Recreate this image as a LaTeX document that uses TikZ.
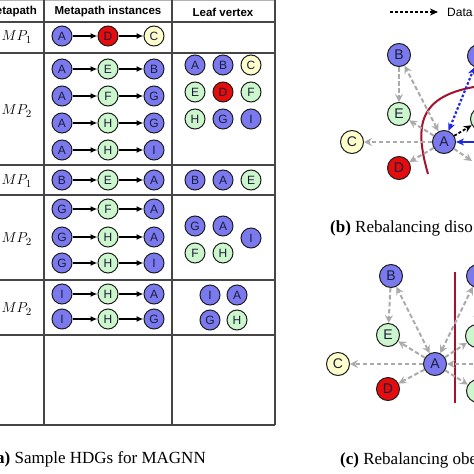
\documentclass[tikz,border=0pt]{standalone}
\usepackage{fontspec}
\setmainfont{Liberation Serif}
\setsansfont{Liberation Sans}
\usetikzlibrary{arrows.meta}
\definecolor{nblue}{RGB}{122,122,238}
\definecolor{ngreen}{RGB}{204,246,204}
\definecolor{nred}{RGB}{228,12,12}
\definecolor{nyellow}{RGB}{255,255,204}
\definecolor{nline}{RGB}{30,30,30}
\definecolor{ntext}{RGB}{28,28,60}
\definecolor{ngray}{RGB}{170,170,170}
\definecolor{tgray}{RGB}{70,70,70}
\definecolor{bblue}{RGB}{30,40,225}
\definecolor{dred}{RGB}{165,18,45}
\newcommand{\instrow}[8]{%
  \node[#3] (#1a) at (62,#2) {#4};
  \node[#5] (#1b) at (108,#2) {#6};
  \node[#7] (#1c) at (154,#2) {#8};
  \draw[tarr] (#1a) -- (#1b);
  \draw[tarr] (#1b) -- (#1c);}
\begin{document}
\begin{tikzpicture}[x=1pt,y=-1pt,
  vtx/.style={circle,draw=nline,line width=1pt,minimum size=20pt,inner sep=0pt,
    font=\sffamily\fontsize{12}{12}\selectfont,text=ntext},
  bigv/.style={minimum size=23pt,font=\sffamily\fontsize{14}{14}\selectfont},
  vb/.style={vtx,fill=nblue}, vg/.style={vtx,fill=ngreen},
  vr/.style={vtx,fill=nred}, vy/.style={vtx,fill=nyellow},
  tarr/.style={-{Latex[length=7pt,width=6pt]},line width=1.6pt,black},
  garr/.style={->,>={Stealth[length=8pt,width=8pt,inset=3pt]},line width=2pt,draw=ngray,
    dash pattern=on 4.5pt off 2.5pt},
  gbi/.style={garr,<->},
  barr/.style={<->,>={Stealth[length=8pt,width=7pt,inset=2.5pt]},line width=2.2pt,draw=bblue,
    dash pattern=on 2.5pt off 2pt},
  bsarr/.style={-{Stealth[length=8pt,width=7pt,inset=2.5pt]},line width=1.8pt,draw=bblue},
  darr/.style={-{Stealth[length=8pt,width=7pt,inset=2.5pt]},line width=1.8pt,draw=black,
    dash pattern=on 3pt off 2pt},
  tline/.style={line width=1.5pt,draw=tgray},
  hdr/.style={font=\sffamily\bfseries\fontsize{11.5}{12}\selectfont,inner sep=0pt},
  mpl/.style={font=\fontsize{15}{15}\selectfont,inner sep=0pt,anchor=east},
  captxt/.style={font=\fontsize{17}{17}\selectfont,inner sep=0pt},
  rcurve/.style={line width=2pt,draw=dred}]
\useasboundingbox (0,0) rectangle (474,474);
\clip (0,0) rectangle (474,474);
\fill[white] (0,0) rectangle (474,474);

% ---------- table (a) ----------
\draw[line width=2pt,draw=gray!60] (0,0) -- (275,0);
\foreach \yy in {22,53,165,195,280,335,425} \draw[tline] (0,\yy) -- (275,\yy);
\foreach \xx in {44,172,275} \draw[tline] (\xx,0) -- (\xx,425);

\node[hdr,anchor=east] (h1) at (37,12) {Metapath};
\node[hdr] (h2) at (108,12) {Metapath instances};
\node[hdr] (h3) at (223,12) {Leaf vertex};

\node[mpl] (m1) at (32,37) {$MP_1$};
\node[mpl] (m2) at (32,111) {$MP_2$};
\node[mpl] (m3) at (32,181) {$MP_1$};
\node[mpl] (m4) at (32,239) {$MP_2$};
\node[mpl] (m5) at (32,309) {$MP_2$};

\instrow{r1}{36}{vb}{A}{vr}{D}{vy}{C}
\instrow{r2}{69}{vb}{A}{vg}{E}{vb}{B}
\instrow{r3}{96}{vb}{A}{vg}{F}{vb}{G}
\instrow{r4}{123}{vb}{A}{vg}{H}{vb}{G}
\instrow{r5}{150}{vb}{A}{vg}{H}{vb}{I}
\instrow{r6}{180}{vb}{B}{vg}{E}{vb}{A}
\instrow{r7}{209}{vb}{G}{vg}{F}{vb}{A}
\instrow{r8}{237}{vb}{G}{vg}{H}{vb}{A}
\instrow{r9}{263}{vb}{G}{vg}{H}{vb}{I}
\instrow{r10}{294}{vb}{I}{vg}{H}{vb}{A}
\instrow{r11}{319}{vb}{I}{vg}{H}{vb}{G}

% leaf vertices
\node[vb] (l1) at (195,65) {A};
\node[vb] (l2) at (223,65) {B};
\node[vy] (l3) at (251,65) {C};
\node[vg] (l4) at (195,92) {E};
\node[vr] (l5) at (223,92) {D};
\node[vg] (l6) at (251,92) {F};
\node[vg] (l7) at (195,119) {H};
\node[vb] (l8) at (223,119) {G};
\node[vb] (l9) at (251,119) {I};
\node[vb] (l10) at (195,180) {B};
\node[vb] (l11) at (223,180) {A};
\node[vg] (l12) at (251,180) {E};
\node[vb] (l13) at (195,226) {G};
\node[vb] (l14) at (223,226) {A};
\node[vg] (l15) at (195,253) {F};
\node[vg] (l16) at (223,253) {H};
\node[vb] (l17) at (251,238) {I};
\node[vb] (l18) at (210,295) {I};
\node[vb] (l19) at (237,295) {A};
\node[vb] (l20) at (210,320) {G};
\node[vg] (l21) at (237,320) {H};

\node[captxt,anchor=base east] (capa) at (206,463) {\textbf{(a)} Sample HDGs for MAGNN};

% ---------- legend ----------
\coordinate (lg1) at (390,12);
\coordinate (lg2) at (438,12);
\draw[darr,line width=1.5pt] (lg1) -- (lg2);
\node[anchor=west,inner sep=0pt,font=\sffamily\fontsize{12}{12}\selectfont] (lgt) at (447,12) {Data};

% ---------- panel (b) ----------
\draw[rcurve] (428,174) .. controls (414,125) and (418,95) .. (480,86);
\node[vb,bigv] (bB) at (399,55) {B};
\node[vg,bigv] (bE) at (399,114) {E};
\node[vy,bigv] (bC) at (352,142) {C};
\node[vb,bigv] (bA) at (444,142) {A};
\node[vr,bigv] (bD) at (399,168) {D};
\node[vb,bigv] (bTR) at (479,56) {};
\node[vg,bigv] (bGR) at (482,119) {};
\coordinate (bLR) at (472,161);
\coordinate (bRt) at (476,142);
\draw[garr] (bB) -- (bE);
\draw[gbi] (bA) -- (bB);
\draw[garr] (bA) -- (bE);
\draw[garr] (bA) -- (bC);
\draw[garr] (bA) -- (bD);
\draw[garr] (bA) -- (bLR);
\draw[barr] (bA) -- (bTR);
\draw[darr] (bA) -- (bGR);
\draw[bsarr] (bRt) -- (bA);
\node[captxt,anchor=base west] (capb) at (330,232) {\textbf{(b)} Rebalancing diso};

% ---------- panel (c) ----------
\draw[rcurve] (455,272) -- (455,403);
\node[vb,bigv] (cB) at (391,276) {B};
\node[vg,bigv] (cE) at (388,335) {E};
\node[vy,bigv] (cC) at (338,364) {C};
\node[vb,bigv] (cA) at (435,364) {A};
\node[vr,bigv] (cD) at (388,389) {D};
\node[vb,bigv] (cTR) at (478,276) {};
\node[vg,bigv] (cGR1) at (477,336) {};
\node[vg,bigv] (cGR2) at (478,391) {};
\coordinate (cRt) at (480,364);
\draw[garr] (cB) -- (cE);
\draw[gbi] (cA) -- (cB);
\draw[garr] (cA) -- (cE);
\draw[garr] (cA) -- (cC);
\draw[garr] (cA) -- (cD);
\draw[gbi] (cA) -- (cTR);
\draw[garr] (cA) -- (cGR1);
\draw[garr] (cA) -- (cGR2);
\draw[garr] (cRt) -- (cA);
\draw[garr] (cTR) -- (cGR1);
\node[captxt,anchor=base west] (capc) at (340,464) {\textbf{(c)} Rebalancing obe};
\end{tikzpicture}
\end{document}
